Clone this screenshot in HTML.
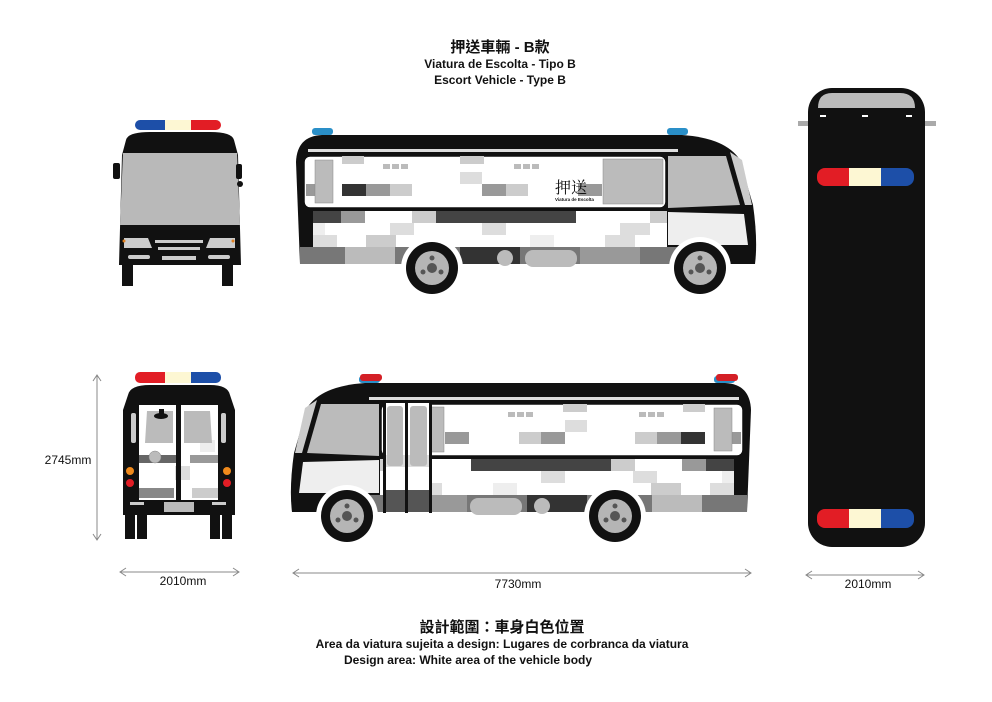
<!DOCTYPE html>
<html><head><meta charset="utf-8"><style>
html,body{margin:0;padding:0;background:#fff;}
svg{display:block;}
text{font-family:"Liberation Sans","Noto Sans CJK TC",sans-serif;font-weight:bold;fill:#111;}
</style></head><body>
<svg width="992" height="702" viewBox="0 0 992 702" xmlns="http://www.w3.org/2000/svg">
<defs>
<g id="wheel">
<circle r="31" fill="#fff"/>
<circle r="26" fill="#111"/>
<circle r="17" fill="#b5b5b5"/>
<circle r="5" fill="#555"/>
<circle cx="0" cy="-10" r="2.5" fill="#555"/><circle cx="9" cy="4" r="2.5" fill="#555"/><circle cx="-9" cy="4" r="2.5" fill="#555"/>
</g>
<g id="bus">
<rect x="312" y="128" width="21" height="7" rx="3" fill="#2a8fc8"/>
<rect x="667" y="128" width="21" height="7" rx="3" fill="#2a8fc8"/>
<path d="M300 264 L296 162 Q297 136 322 135 L682 135 Q726 138 740 160 L753 205 Q758 240 755 264 Z" fill="#111"/>
<rect x="308" y="149" width="370" height="3" fill="#ddd"/>
<rect x="304" y="156" width="362" height="52" rx="6" fill="#fff" stroke="#111" stroke-width="1.5"/>
<rect x="342" y="156" width="22" height="8" fill="#ccc"/><rect x="460" y="156" width="24" height="8" fill="#ccc"/>
<rect x="306" y="184" width="12" height="12" fill="#999"/>
<rect x="342" y="184" width="24" height="12" fill="#333"/><rect x="366" y="184" width="24" height="12" fill="#999"/><rect x="390" y="184" width="22" height="12" fill="#ccc"/>
<rect x="460" y="172" width="22" height="12" fill="#ddd"/><rect x="482" y="184" width="24" height="12" fill="#999"/><rect x="506" y="184" width="22" height="12" fill="#ccc"/>
<rect x="578" y="184" width="24" height="12" fill="#999"/>
<rect x="315" y="160" width="18" height="43" fill="#bbb" stroke="#888" stroke-width="0.5"/>
<rect x="603" y="159" width="60" height="45" fill="#bbb" stroke="#888" stroke-width="0.5"/>
<rect x="383" y="164" width="7" height="5" fill="#bbb"/><rect x="392" y="164" width="7" height="5" fill="#bbb"/><rect x="401" y="164" width="7" height="5" fill="#bbb"/>
<rect x="514" y="164" width="7" height="5" fill="#bbb"/><rect x="523" y="164" width="7" height="5" fill="#bbb"/><rect x="532" y="164" width="7" height="5" fill="#bbb"/>
<rect x="313" y="211" width="354" height="48" fill="#fff"/>
<rect x="313" y="211" width="28" height="12" fill="#444"/><rect x="341" y="211" width="24" height="12" fill="#999"/><rect x="412" y="211" width="24" height="12" fill="#ccc"/>
<rect x="436" y="211" width="140" height="12" fill="#444"/><rect x="650" y="211" width="17" height="12" fill="#ccc"/>
<rect x="313" y="223" width="12" height="12" fill="#eee"/><rect x="390" y="223" width="24" height="12" fill="#ddd"/><rect x="482" y="223" width="24" height="12" fill="#ddd"/><rect x="620" y="223" width="30" height="12" fill="#ddd"/>
<rect x="313" y="235" width="24" height="12" fill="#ddd"/><rect x="366" y="235" width="30" height="12" fill="#ccc"/><rect x="530" y="235" width="24" height="12" fill="#eee"/><rect x="605" y="235" width="30" height="12" fill="#ddd"/>
<rect x="300" y="247" width="380" height="17" fill="#777"/>
<rect x="345" y="247" width="50" height="17" fill="#bbb"/><rect x="460" y="247" width="60" height="17" fill="#333"/><rect x="580" y="247" width="60" height="17" fill="#999"/>
<circle cx="505" cy="258" r="8" fill="#bbb"/><rect x="525" y="250" width="52" height="17" rx="8" fill="#bbb"/>
<path d="M668 156 L726 156 L740 205 L668 208 Z" fill="#bbb"/>
<path d="M668 212 L744 214 L748 245 L668 245 Z" fill="#eee"/>
<path d="M730 152 L742 160 L752 205 L745 205 Z" fill="#ccc"/>
<use href="#wheel" x="432" y="268"/>
<use href="#wheel" x="700" y="268"/>
</g>
</defs>

<text x="500" y="52" font-size="15" text-anchor="middle">押送車輛 - B款</text>
<text x="500" y="68" font-size="12" text-anchor="middle">Viatura de Escolta - Tipo B</text>
<text x="500" y="84" font-size="12" text-anchor="middle">Escort Vehicle - Type B</text>

<!-- front view -->
<rect x="135" y="120" width="29" height="10" rx="5" fill="#1d4fa8"/><rect x="150" y="120" width="30" height="10" fill="#1d4fa8"/>
<rect x="165" y="120" width="26" height="10" fill="#fdf7d3"/>
<rect x="191" y="120" width="30" height="10" rx="5" fill="#e21d25"/><rect x="191" y="120" width="14" height="10" fill="#e21d25"/>
<path d="M126 140 Q128 132 150 132 L210 132 Q232 132 234 140 L238 155 L241 265 L119 265 L122 155 Z" fill="#111"/>
<path d="M123 153 L237 153 L240 225 L120 225 Z" fill="#b9b9b9"/>
<rect x="122" y="265" width="11" height="21" fill="#111"/><rect x="222" y="265" width="11" height="21" fill="#111"/>
<rect x="113" y="163" width="7" height="16" rx="2" fill="#111"/><rect x="236" y="164" width="6" height="15" rx="2" fill="#111"/><circle cx="240" cy="184" r="3" fill="#111"/>
<path d="M124 238 L148 238 L152 248 L124 248 Z" fill="#ccc"/><path d="M210 238 L235 238 L235 248 L206 248 Z" fill="#ccc"/>
<rect x="155" y="240" width="48" height="3" fill="#ccc"/><rect x="158" y="247" width="42" height="3" fill="#ccc"/>
<rect x="128" y="255" width="22" height="4" rx="2" fill="#ccc"/><rect x="162" y="256" width="34" height="4" fill="#ccc"/><rect x="208" y="255" width="22" height="4" rx="2" fill="#ccc"/>
<circle cx="124" cy="241" r="1.5" fill="#e08020"/><circle cx="233" cy="241" r="1.5" fill="#e08020"/>

<!-- rear view -->
<rect x="135" y="372" width="30" height="11" rx="5" fill="#e21d25"/><rect x="150" y="372" width="15" height="11" fill="#e21d25"/>
<rect x="165" y="372" width="26" height="11" fill="#fdf7d3"/>
<rect x="191" y="372" width="30" height="11" rx="5" fill="#1d4fa8"/><rect x="191" y="372" width="14" height="11" fill="#1d4fa8"/>
<path d="M128 395 Q130 385 150 385 L210 385 Q228 385 230 395 L235 410 L235 515 L123 515 L123 410 Z" fill="#111"/>
<rect x="139" y="405" width="79" height="95" fill="#fff"/>
<rect x="139" y="455" width="40" height="8" fill="#666"/><rect x="190" y="455" width="28" height="8" fill="#999"/>
<rect x="175" y="466" width="15" height="14" fill="#ddd"/><rect x="139" y="488" width="35" height="10" fill="#888"/><rect x="192" y="488" width="26" height="10" fill="#ccc"/>
<rect x="200" y="440" width="15" height="12" fill="#eee"/>
<path d="M147 411 L173 411 L173 443 L145 443 Z" fill="#bbb"/><path d="M184 411 L210 411 L212 443 L184 443 Z" fill="#bbb"/>
<rect x="159" y="409" width="5" height="5" fill="#111"/><ellipse cx="161" cy="416" rx="7" ry="3" fill="#111"/>
<rect x="176" y="403" width="5" height="97" fill="#111"/>
<circle cx="155" cy="457" r="6" fill="#bbb" stroke="#888" stroke-width="0.5"/>
<rect x="131" y="413" width="5" height="30" rx="2" fill="#ccc"/><rect x="221" y="413" width="5" height="30" rx="2" fill="#ccc"/>
<circle cx="130" cy="471" r="4" fill="#f08a1c"/><circle cx="130" cy="483" r="4" fill="#e21d25"/>
<circle cx="227" cy="471" r="4" fill="#f08a1c"/><circle cx="227" cy="483" r="4" fill="#e21d25"/>
<rect x="130" y="502" width="14" height="3" fill="#ccc"/><rect x="212" y="502" width="14" height="3" fill="#ccc"/>
<rect x="164" y="502" width="30" height="10" fill="#bbb"/>
<rect x="125" y="515" width="10" height="24" fill="#111"/><rect x="137" y="515" width="10" height="24" fill="#111"/>
<rect x="210" y="515" width="10" height="24" fill="#111"/><rect x="222" y="515" width="10" height="24" fill="#111"/>

<!-- side views -->
<use href="#bus"/>
<text x="555" y="193" font-size="16" style="font-weight:normal;font-family:'Noto Serif CJK SC',serif">押送</text>
<text x="555" y="201" font-size="4.5">Viatura de Escolta</text>
<g transform="translate(1047,248) scale(-1,1)"><use href="#bus"/></g>
<rect x="384" y="403" width="48" height="110" fill="#fff"/>
<rect x="384" y="455" width="48" height="12" fill="#ddd"/><rect x="384" y="490" width="48" height="22" fill="#555"/>
<rect x="383" y="403" width="3" height="110" fill="#111"/><rect x="405" y="403" width="3" height="110" fill="#111"/><rect x="429" y="403" width="3" height="110" fill="#111"/>
<rect x="387" y="406" width="16" height="60" rx="3" fill="#bbb"/><rect x="410" y="406" width="17" height="60" rx="3" fill="#bbb"/>
<rect x="360" y="374" width="22" height="7" rx="3" fill="#d41f26"/><rect x="716" y="374" width="22" height="7" rx="3" fill="#d41f26"/>

<!-- top view -->
<rect x="798" y="121" width="138" height="5" fill="#aaa"/>
<rect x="808" y="88" width="117" height="459" rx="24" fill="#111"/>
<path d="M818 108 Q818 93 832 93 L900 93 Q915 93 915 108 Z" fill="#bbb"/>
<rect x="820" y="115" width="6" height="2" fill="#fff"/><rect x="862" y="115" width="6" height="2" fill="#fff"/><rect x="906" y="115" width="6" height="2" fill="#fff"/>
<rect x="817" y="168" width="40" height="18" rx="8" fill="#e21d25"/><rect x="849" y="168" width="32" height="18" fill="#fdf7d3"/><rect x="881" y="168" width="33" height="18" rx="8" fill="#1d4fa8"/><rect x="881" y="168" width="12" height="18" fill="#1d4fa8"/>
<rect x="817" y="509" width="40" height="19" rx="8" fill="#e21d25"/><rect x="849" y="509" width="32" height="19" fill="#fdf7d3"/><rect x="881" y="509" width="33" height="19" rx="8" fill="#1d4fa8"/><rect x="881" y="509" width="12" height="19" fill="#1d4fa8"/>

<!-- dimensions -->
<g stroke="#888" stroke-width="1" fill="none">
<line x1="97" y1="375" x2="97" y2="540"/><path d="M93 381 L97 375 L101 381 M93 534 L97 540 L101 534"/>
<line x1="120" y1="572" x2="239" y2="572"/><path d="M126 568 L120 572 L126 576 M233 568 L239 572 L233 576"/>
<line x1="293" y1="573" x2="751" y2="573"/><path d="M299 569 L293 573 L299 577 M745 569 L751 573 L745 577"/>
<line x1="806" y1="575" x2="924" y2="575"/><path d="M812 571 L806 575 L812 579 M918 571 L924 575 L918 579"/>
</g>
<text x="68" y="464" font-size="12" text-anchor="middle" style="font-weight:normal">2745mm</text>
<text x="183" y="585" font-size="12" text-anchor="middle" style="font-weight:normal">2010mm</text>
<text x="518" y="588" font-size="12" text-anchor="middle" style="font-weight:normal">7730mm</text>
<text x="868" y="588" font-size="12" text-anchor="middle" style="font-weight:normal">2010mm</text>

<text x="502" y="632" font-size="15" text-anchor="middle">設計範圍：車身白色位置</text>
<text x="502" y="648" font-size="12" text-anchor="middle">Area da viatura sujeita a design: Lugares de corbranca da viatura</text>
<text x="468" y="664" font-size="12" text-anchor="middle">Design area: White area of the vehicle body</text>
</svg>
</body></html>
